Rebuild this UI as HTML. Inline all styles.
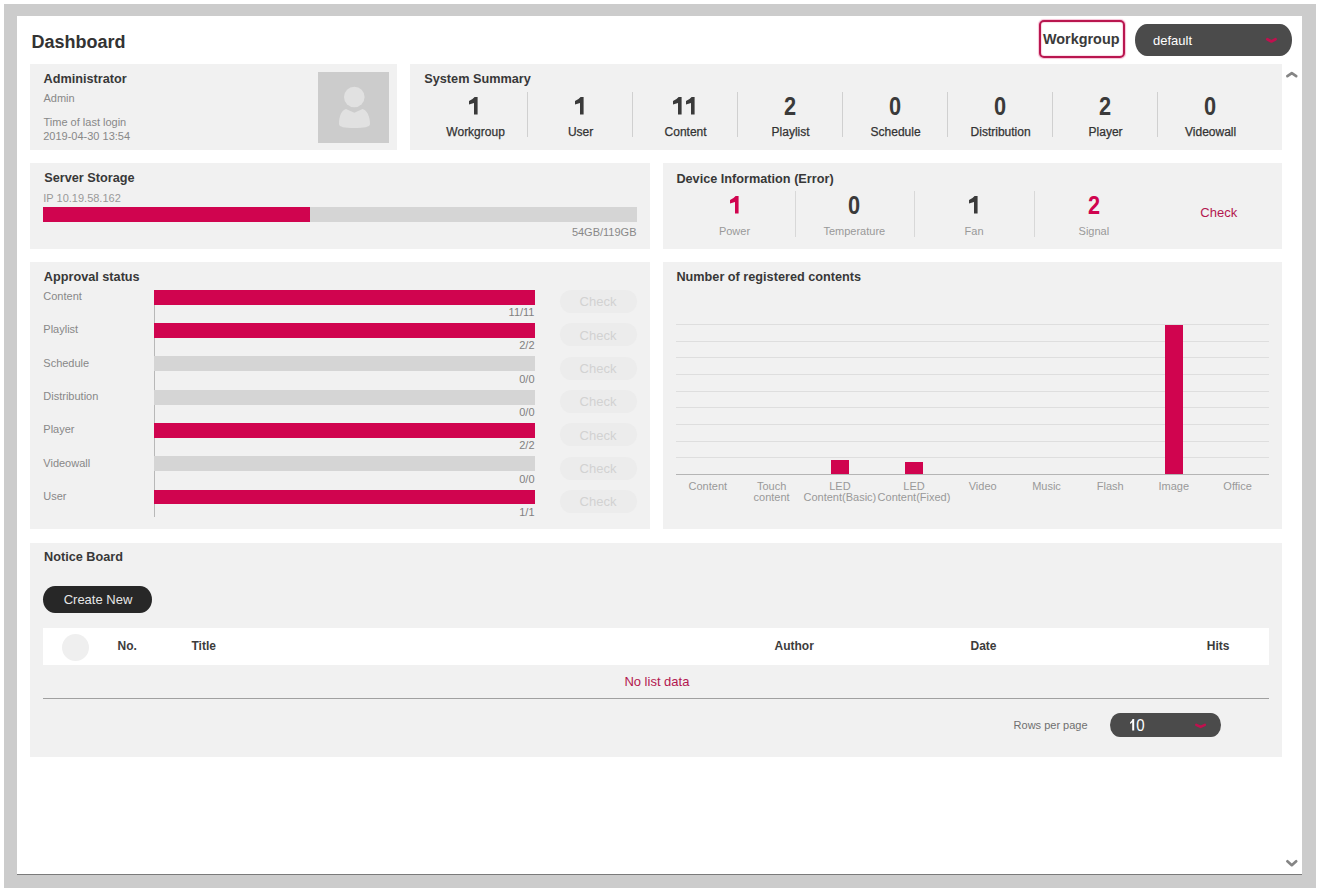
<!DOCTYPE html>
<html><head><meta charset="utf-8"><title>Dashboard</title>
<style>
html,body{margin:0;padding:0;background:#fff;width:1318px;height:891px;overflow:hidden;}
body{position:relative;font-family:"Liberation Sans",sans-serif;}
body>div,body>svg{position:absolute;box-sizing:content-box;}
.t{white-space:nowrap;}
</style></head><body>
<div style="left:4px;top:4px;width:1312px;height:884px;background:#cccccc;"></div>
<div style="left:17px;top:16px;width:1285px;height:858px;background:#ffffff;"></div>
<div style="left:17px;top:874px;width:1285px;height:1px;background:#7a7a7a;"></div>
<div class="t" style="left:31.60px;top:33.40px;font-size:18px;line-height:18px;color:#333;font-weight:bold;">Dashboard</div>
<div style="left:1039px;top:20px;width:82px;height:34px;border:2px solid #b9164f;border-radius:5px;background:#fff;box-shadow:0 0 0.8px 0.6px rgba(235,120,165,0.45), inset 0 0 0.8px 0.6px rgba(235,120,165,0.45)"></div>
<div class="t" style="left:1043.00px;top:32.36px;font-size:14.4px;line-height:14.4px;color:#3a3a3a;font-weight:bold;">Workgroup</div>
<div style="left:1135px;top:24px;width:157px;height:32px;background:#4b4b4b;border-radius:12px/16px;"></div>
<div class="t" style="left:1153.00px;top:33.75px;font-size:13px;line-height:13px;color:#fff;font-weight:normal;">default</div>
<svg style="position:absolute;left:1260px;top:32px" width="22" height="16" viewBox="1260 32 22 16"><path d="M1267.3 39.3 L1271.4 41.4 L1275.5 39.3" stroke="#c0104e" stroke-width="2.8" stroke-linecap="round" stroke-linejoin="round" fill="none"/></svg>
<div style="left:30px;top:64px;width:367px;height:86px;background:#f1f1f1;"></div>
<div class="t" style="left:43.50px;top:73.00px;font-size:12.7px;line-height:12.7px;color:#383838;font-weight:bold;">Administrator</div>
<div class="t" style="left:43.50px;top:93.25px;font-size:11px;line-height:11px;color:#888;font-weight:normal;">Admin</div>
<div class="t" style="left:43.50px;top:117.45px;font-size:11px;line-height:11px;color:#888;font-weight:normal;">Time of last login</div>
<div class="t" style="left:43.20px;top:130.95px;font-size:11px;line-height:11px;color:#888;font-weight:normal;">2019-04-30 13:54</div>
<div style="left:318px;top:72px;width:71px;height:71px;background:#cccccc;"></div>
<svg style="position:absolute;left:318px;top:72px" width="71" height="71" viewBox="0 0 71 71"><circle cx="36.3" cy="25" r="10.3" fill="#e1e1e1"/><path d="M21 52 C21 44 23.5 38.5 28 37 L36.3 40.8 L44.6 37 C49 38.5 52 44 52 52 C52 55 46 56 36.3 56 C26.5 56 21 55 21 52 Z" fill="#e1e1e1"/></svg>
<div style="left:410px;top:64px;width:872px;height:86px;background:#f1f1f1;"></div>
<div class="t" style="left:424.30px;top:72.70px;font-size:12.7px;line-height:12.7px;color:#383838;font-weight:bold;">System Summary</div>
<svg style="position:absolute;left:468.1px;top:96.05px" width="12" height="20" viewBox="0 0 12 20"><path transform="translate(6 1) scale(1.0)" d="M0.6 0 L3.6 0 L3.6 17.6 L0 17.6 L0 6 L-5 7.6 L-5 4.1 Q-1.6 2.7 0.6 0 Z" fill="#3a3a3a"/></svg>
<div class="t" style="left:175.60px;width:600px;text-align:center;top:126.30px;font-size:12px;line-height:12px;color:#333;font-weight:normal;-webkit-text-stroke:0.25px #333;">Workgroup</div>
<div style="left:527px;top:92px;width:1px;height:45px;background:#d0d0d0;"></div>
<svg style="position:absolute;left:573.6px;top:96.05px" width="12" height="20" viewBox="0 0 12 20"><path transform="translate(6 1) scale(1.0)" d="M0.6 0 L3.6 0 L3.6 17.6 L0 17.6 L0 6 L-5 7.6 L-5 4.1 Q-1.6 2.7 0.6 0 Z" fill="#3a3a3a"/></svg>
<div class="t" style="left:280.60px;width:600px;text-align:center;top:126.30px;font-size:12px;line-height:12px;color:#333;font-weight:normal;-webkit-text-stroke:0.25px #333;">User</div>
<div style="left:632px;top:92px;width:1px;height:45px;background:#d0d0d0;"></div>
<svg style="position:absolute;left:671.8px;top:96.05px" width="12" height="20" viewBox="0 0 12 20"><path transform="translate(6 1) scale(1.0)" d="M0.6 0 L3.6 0 L3.6 17.6 L0 17.6 L0 6 L-5 7.6 L-5 4.1 Q-1.6 2.7 0.6 0 Z" fill="#3a3a3a"/></svg>
<svg style="position:absolute;left:684.6px;top:96.05px" width="12" height="20" viewBox="0 0 12 20"><path transform="translate(6 1) scale(1.0)" d="M0.6 0 L3.6 0 L3.6 17.6 L0 17.6 L0 6 L-5 7.6 L-5 4.1 Q-1.6 2.7 0.6 0 Z" fill="#3a3a3a"/></svg>
<div class="t" style="left:385.60px;width:600px;text-align:center;top:126.30px;font-size:12px;line-height:12px;color:#333;font-weight:normal;-webkit-text-stroke:0.25px #333;">Content</div>
<div style="left:737px;top:92px;width:1px;height:45px;background:#d0d0d0;"></div>
<div class="t" style="left:490.00px;width:600px;text-align:center;top:94.25px;font-size:25px;line-height:25px;color:#3a3a3a;font-weight:bold;transform:scaleX(0.87);">2</div>
<div class="t" style="left:490.60px;width:600px;text-align:center;top:126.30px;font-size:12px;line-height:12px;color:#333;font-weight:normal;-webkit-text-stroke:0.25px #333;">Playlist</div>
<div style="left:842px;top:92px;width:1px;height:45px;background:#d0d0d0;"></div>
<div class="t" style="left:595.00px;width:600px;text-align:center;top:94.25px;font-size:25px;line-height:25px;color:#3a3a3a;font-weight:bold;transform:scaleX(0.87);">0</div>
<div class="t" style="left:595.60px;width:600px;text-align:center;top:126.30px;font-size:12px;line-height:12px;color:#333;font-weight:normal;-webkit-text-stroke:0.25px #333;">Schedule</div>
<div style="left:947px;top:92px;width:1px;height:45px;background:#d0d0d0;"></div>
<div class="t" style="left:700.00px;width:600px;text-align:center;top:94.25px;font-size:25px;line-height:25px;color:#3a3a3a;font-weight:bold;transform:scaleX(0.87);">0</div>
<div class="t" style="left:700.60px;width:600px;text-align:center;top:126.30px;font-size:12px;line-height:12px;color:#333;font-weight:normal;-webkit-text-stroke:0.25px #333;">Distribution</div>
<div style="left:1052px;top:92px;width:1px;height:45px;background:#d0d0d0;"></div>
<div class="t" style="left:805.00px;width:600px;text-align:center;top:94.25px;font-size:25px;line-height:25px;color:#3a3a3a;font-weight:bold;transform:scaleX(0.87);">2</div>
<div class="t" style="left:805.60px;width:600px;text-align:center;top:126.30px;font-size:12px;line-height:12px;color:#333;font-weight:normal;-webkit-text-stroke:0.25px #333;">Player</div>
<div style="left:1157px;top:92px;width:1px;height:45px;background:#d0d0d0;"></div>
<div class="t" style="left:910.00px;width:600px;text-align:center;top:94.25px;font-size:25px;line-height:25px;color:#3a3a3a;font-weight:bold;transform:scaleX(0.87);">0</div>
<div class="t" style="left:910.60px;width:600px;text-align:center;top:126.30px;font-size:12px;line-height:12px;color:#333;font-weight:normal;-webkit-text-stroke:0.25px #333;">Videowall</div>
<div style="left:30px;top:163px;width:620px;height:86px;background:#f1f1f1;"></div>
<div class="t" style="left:44.30px;top:172.01px;font-size:12.7px;line-height:12.7px;color:#383838;font-weight:bold;">Server Storage</div>
<div class="t" style="left:43.30px;top:193.05px;font-size:11px;line-height:11px;color:#999;font-weight:normal;">IP 10.19.58.162</div>
<div style="left:43px;top:207px;width:594px;height:15px;background:#d5d5d5;"></div>
<div style="left:43px;top:207px;width:267px;height:15px;background:#d0044f;"></div>
<div class="t" style="left:36.50px;width:600px;text-align:right;top:226.75px;font-size:11px;line-height:11px;color:#888;font-weight:normal;">54GB/119GB</div>
<div style="left:663px;top:163px;width:619px;height:86px;background:#f1f1f1;"></div>
<div class="t" style="left:676.40px;top:173.11px;font-size:12.7px;line-height:12.7px;color:#383838;font-weight:bold;">Device Information (Error)</div>
<svg style="position:absolute;left:728.8px;top:195.1px" width="12" height="20" viewBox="0 0 12 20"><path transform="translate(6 1) scale(0.9943181818181818)" d="M0.6 0 L3.6 0 L3.6 17.6 L0 17.6 L0 6 L-5 7.6 L-5 4.1 Q-1.6 2.7 0.6 0 Z" fill="#d0044f"/></svg>
<div class="t" style="left:434.50px;width:600px;text-align:center;top:225.85px;font-size:11px;line-height:11px;color:#999;font-weight:normal;">Power</div>
<div class="t" style="left:554.30px;width:600px;text-align:center;top:193.05px;font-size:25px;line-height:25px;color:#3a3a3a;font-weight:bold;transform:scaleX(0.87);">0</div>
<div class="t" style="left:554.30px;width:600px;text-align:center;top:225.85px;font-size:11px;line-height:11px;color:#999;font-weight:normal;">Temperature</div>
<svg style="position:absolute;left:968.1px;top:195.1px" width="12" height="20" viewBox="0 0 12 20"><path transform="translate(6 1) scale(0.9943181818181818)" d="M0.6 0 L3.6 0 L3.6 17.6 L0 17.6 L0 6 L-5 7.6 L-5 4.1 Q-1.6 2.7 0.6 0 Z" fill="#3a3a3a"/></svg>
<div class="t" style="left:674.10px;width:600px;text-align:center;top:225.85px;font-size:11px;line-height:11px;color:#999;font-weight:normal;">Fan</div>
<div class="t" style="left:793.90px;width:600px;text-align:center;top:193.05px;font-size:25px;line-height:25px;color:#d0044f;font-weight:bold;transform:scaleX(0.87);">2</div>
<div class="t" style="left:793.90px;width:600px;text-align:center;top:225.85px;font-size:11px;line-height:11px;color:#999;font-weight:normal;">Signal</div>
<div style="left:795px;top:191px;width:1px;height:46px;background:#d8d8d8;"></div>
<div style="left:914px;top:191px;width:1px;height:46px;background:#d8d8d8;"></div>
<div style="left:1034px;top:191px;width:1px;height:46px;background:#d8d8d8;"></div>
<div class="t" style="left:918.80px;width:600px;text-align:center;top:205.75px;font-size:13px;line-height:13px;color:#b3174f;font-weight:normal;">Check</div>
<div style="left:30px;top:262px;width:620px;height:267px;background:#f1f1f1;"></div>
<div class="t" style="left:43.80px;top:270.70px;font-size:12.7px;line-height:12.7px;color:#383838;font-weight:bold;">Approval status</div>
<div style="left:154px;top:290px;width:1px;height:227px;background:#b8b8b8;"></div>
<div class="t" style="left:43.30px;top:291.05px;font-size:11px;line-height:11px;color:#888;font-weight:normal;">Content</div>
<div style="left:154px;top:290px;width:381px;height:15px;background:#d0044f;"></div>
<div class="t" style="left:-65.50px;width:600px;text-align:right;top:307.05px;font-size:11px;line-height:11px;color:#808080;font-weight:normal;">11/11</div>
<div style="left:560px;top:290px;width:77px;height:23px;background:#ececec;border-radius:12px;"></div>
<div class="t" style="left:298.00px;width:600px;text-align:center;top:295.35px;font-size:13px;line-height:13px;color:#d2d2d2;font-weight:normal;">Check</div>
<div class="t" style="left:43.30px;top:324.38px;font-size:11px;line-height:11px;color:#888;font-weight:normal;">Playlist</div>
<div style="left:154px;top:323px;width:381px;height:15px;background:#d0044f;"></div>
<div class="t" style="left:-65.50px;width:600px;text-align:right;top:340.38px;font-size:11px;line-height:11px;color:#808080;font-weight:normal;">2/2</div>
<div style="left:560px;top:323px;width:77px;height:23px;background:#ececec;border-radius:12px;"></div>
<div class="t" style="left:298.00px;width:600px;text-align:center;top:328.68px;font-size:13px;line-height:13px;color:#d2d2d2;font-weight:normal;">Check</div>
<div class="t" style="left:43.30px;top:357.71px;font-size:11px;line-height:11px;color:#888;font-weight:normal;">Schedule</div>
<div style="left:154px;top:356px;width:381px;height:15px;background:#d5d5d5;"></div>
<div class="t" style="left:-65.50px;width:600px;text-align:right;top:373.71px;font-size:11px;line-height:11px;color:#808080;font-weight:normal;">0/0</div>
<div style="left:560px;top:357px;width:77px;height:23px;background:#ececec;border-radius:12px;"></div>
<div class="t" style="left:298.00px;width:600px;text-align:center;top:362.01px;font-size:13px;line-height:13px;color:#d2d2d2;font-weight:normal;">Check</div>
<div class="t" style="left:43.30px;top:391.04px;font-size:11px;line-height:11px;color:#888;font-weight:normal;">Distribution</div>
<div style="left:154px;top:390px;width:381px;height:15px;background:#d5d5d5;"></div>
<div class="t" style="left:-65.50px;width:600px;text-align:right;top:407.04px;font-size:11px;line-height:11px;color:#808080;font-weight:normal;">0/0</div>
<div style="left:560px;top:390px;width:77px;height:23px;background:#ececec;border-radius:12px;"></div>
<div class="t" style="left:298.00px;width:600px;text-align:center;top:395.34px;font-size:13px;line-height:13px;color:#d2d2d2;font-weight:normal;">Check</div>
<div class="t" style="left:43.30px;top:424.37px;font-size:11px;line-height:11px;color:#888;font-weight:normal;">Player</div>
<div style="left:154px;top:423px;width:381px;height:15px;background:#d0044f;"></div>
<div class="t" style="left:-65.50px;width:600px;text-align:right;top:440.37px;font-size:11px;line-height:11px;color:#808080;font-weight:normal;">2/2</div>
<div style="left:560px;top:423px;width:77px;height:23px;background:#ececec;border-radius:12px;"></div>
<div class="t" style="left:298.00px;width:600px;text-align:center;top:428.67px;font-size:13px;line-height:13px;color:#d2d2d2;font-weight:normal;">Check</div>
<div class="t" style="left:43.30px;top:457.70px;font-size:11px;line-height:11px;color:#888;font-weight:normal;">Videowall</div>
<div style="left:154px;top:456px;width:381px;height:15px;background:#d5d5d5;"></div>
<div class="t" style="left:-65.50px;width:600px;text-align:right;top:473.70px;font-size:11px;line-height:11px;color:#808080;font-weight:normal;">0/0</div>
<div style="left:560px;top:457px;width:77px;height:23px;background:#ececec;border-radius:12px;"></div>
<div class="t" style="left:298.00px;width:600px;text-align:center;top:462.00px;font-size:13px;line-height:13px;color:#d2d2d2;font-weight:normal;">Check</div>
<div class="t" style="left:43.30px;top:491.03px;font-size:11px;line-height:11px;color:#888;font-weight:normal;">User</div>
<div style="left:154px;top:490px;width:381px;height:14px;background:#d0044f;"></div>
<div class="t" style="left:-65.50px;width:600px;text-align:right;top:507.03px;font-size:11px;line-height:11px;color:#808080;font-weight:normal;">1/1</div>
<div style="left:560px;top:490px;width:77px;height:23px;background:#ececec;border-radius:12px;"></div>
<div class="t" style="left:298.00px;width:600px;text-align:center;top:495.33px;font-size:13px;line-height:13px;color:#d2d2d2;font-weight:normal;">Check</div>
<div style="left:663px;top:262px;width:619px;height:267px;background:#f1f1f1;"></div>
<div class="t" style="left:676.40px;top:270.81px;font-size:12.7px;line-height:12.7px;color:#383838;font-weight:bold;">Number of registered contents</div>
<div style="left:676px;top:324px;width:593px;height:1px;background:#dedede;"></div>
<div style="left:676px;top:341px;width:593px;height:1px;background:#dedede;"></div>
<div style="left:676px;top:357px;width:593px;height:1px;background:#dedede;"></div>
<div style="left:676px;top:374px;width:593px;height:1px;background:#dedede;"></div>
<div style="left:676px;top:391px;width:593px;height:1px;background:#dedede;"></div>
<div style="left:676px;top:407px;width:593px;height:1px;background:#dedede;"></div>
<div style="left:676px;top:424px;width:593px;height:1px;background:#dedede;"></div>
<div style="left:676px;top:441px;width:593px;height:1px;background:#dedede;"></div>
<div style="left:676px;top:457px;width:593px;height:1px;background:#dedede;"></div>
<div style="left:676px;top:474px;width:593px;height:1px;background:#b5b5b5;"></div>
<div style="left:831px;top:460px;width:18px;height:14px;background:#d0044f;"></div>
<div style="left:905px;top:462px;width:18px;height:12px;background:#d0044f;"></div>
<div style="left:1165px;top:325px;width:18px;height:149px;background:#d0044f;"></div>
<div class="t" style="left:407.80px;width:600px;text-align:center;top:480.65px;font-size:11px;line-height:11px;color:#999;font-weight:normal;">Content</div>
<div class="t" style="left:471.60px;width:600px;text-align:center;top:480.65px;font-size:11px;line-height:11px;color:#999;font-weight:normal;">Touch</div>
<div class="t" style="left:471.60px;width:600px;text-align:center;top:492.25px;font-size:11px;line-height:11px;color:#999;font-weight:normal;">content</div>
<div class="t" style="left:539.90px;width:600px;text-align:center;top:480.65px;font-size:11px;line-height:11px;color:#999;font-weight:normal;">LED</div>
<div class="t" style="left:539.90px;width:600px;text-align:center;top:492.25px;font-size:11px;line-height:11px;color:#999;font-weight:normal;">Content(Basic)</div>
<div class="t" style="left:614.00px;width:600px;text-align:center;top:480.65px;font-size:11px;line-height:11px;color:#999;font-weight:normal;">LED</div>
<div class="t" style="left:614.00px;width:600px;text-align:center;top:492.25px;font-size:11px;line-height:11px;color:#999;font-weight:normal;">Content(Fixed)</div>
<div class="t" style="left:682.70px;width:600px;text-align:center;top:480.65px;font-size:11px;line-height:11px;color:#999;font-weight:normal;">Video</div>
<div class="t" style="left:746.50px;width:600px;text-align:center;top:480.65px;font-size:11px;line-height:11px;color:#999;font-weight:normal;">Music</div>
<div class="t" style="left:810.30px;width:600px;text-align:center;top:480.65px;font-size:11px;line-height:11px;color:#999;font-weight:normal;">Flash</div>
<div class="t" style="left:873.80px;width:600px;text-align:center;top:480.65px;font-size:11px;line-height:11px;color:#999;font-weight:normal;">Image</div>
<div class="t" style="left:937.60px;width:600px;text-align:center;top:480.65px;font-size:11px;line-height:11px;color:#999;font-weight:normal;">Office</div>
<div style="left:30px;top:543px;width:1252px;height:214px;background:#f1f1f1;"></div>
<div class="t" style="left:44.00px;top:551.11px;font-size:12.7px;line-height:12.7px;color:#383838;font-weight:bold;">Notice Board</div>
<div style="left:43px;top:586px;width:109px;height:27px;background:#272727;border-radius:12px/13.5px;"></div>
<div class="t" style="left:-202.00px;width:600px;text-align:center;top:593.25px;font-size:13px;line-height:13px;color:#e6e6e6;font-weight:normal;">Create New</div>
<div style="left:43px;top:628px;width:1226px;height:37px;background:#ffffff;"></div>
<div style="left:62px;top:634px;width:27px;height:27px;border-radius:50%;background:#efefef"></div>
<div class="t" style="left:117.50px;top:639.80px;font-size:12px;line-height:12px;color:#3c3c3c;font-weight:bold;">No.</div>
<div class="t" style="left:191.50px;top:639.80px;font-size:12px;line-height:12px;color:#3c3c3c;font-weight:bold;">Title</div>
<div class="t" style="left:774.50px;top:639.80px;font-size:12px;line-height:12px;color:#3c3c3c;font-weight:bold;">Author</div>
<div class="t" style="left:970.50px;top:639.80px;font-size:12px;line-height:12px;color:#3c3c3c;font-weight:bold;">Date</div>
<div class="t" style="left:1206.80px;top:639.80px;font-size:12px;line-height:12px;color:#3c3c3c;font-weight:bold;">Hits</div>
<div class="t" style="left:624.40px;top:674.85px;font-size:13px;line-height:13px;color:#b3174f;font-weight:normal;">No list data</div>
<div style="left:43px;top:698px;width:1226px;height:1px;background:#a0a0a0;"></div>
<div class="t" style="left:1013.60px;top:719.75px;font-size:11px;line-height:11px;color:#6f6f6f;font-weight:normal;">Rows per page</div>
<div style="left:1110px;top:713px;width:111px;height:24px;background:#4b4b4b;border-radius:10px/12px;"></div>
<div class="t" style="left:1136.30px;top:718.25px;font-size:15px;line-height:15px;color:#fff;font-weight:normal;transform:scaleY(1.13);transform-origin:0 12.75px;">0</div>
<svg style="position:absolute;left:1126px;top:716px" width="12" height="18" viewBox="1126 716 12 18"><path d="M1132.5 718.9 L1134.2 718.9 L1134.2 730.6 L1132.2 730.6 L1132.2 722.3 Q1131.3 723.4 1130.1 724 L1130.1 722.3 Q1131.8 721 1132.5 718.9 Z" fill="#fff"/></svg>
<svg style="position:absolute;left:1190px;top:718px" width="20" height="14" viewBox="1190 718 20 14"><path d="M1196.3 724.8 L1200.6 726.9 L1204.9 724.8" stroke="#c0104e" stroke-width="2.5" stroke-linecap="round" stroke-linejoin="round" fill="none"/></svg>
<svg style="position:absolute;left:1280px;top:66px" width="24" height="18" viewBox="1280 66 24 18"><path d="M1287.4 76.2 L1291.8 73.2 L1296.2 76.2" stroke="#858585" stroke-width="2.7" stroke-linecap="round" stroke-linejoin="round" fill="none"/></svg>
<svg style="position:absolute;left:1280px;top:854px" width="24" height="18" viewBox="1280 854 24 18"><path d="M1287.4 861.3 L1291.8 865.2 L1296.2 861.3" stroke="#858585" stroke-width="2.7" stroke-linecap="round" stroke-linejoin="round" fill="none"/></svg>
</body></html>
